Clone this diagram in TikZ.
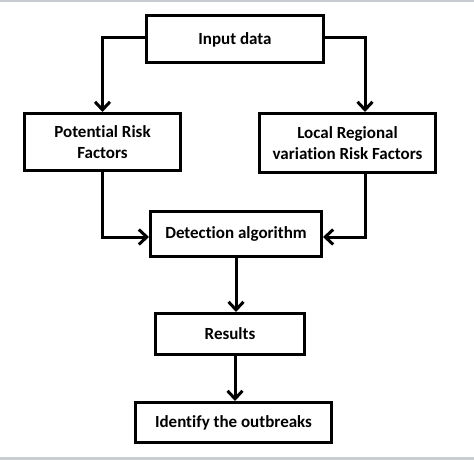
\documentclass[tikz,border=0pt]{standalone}
\usepackage{fontspec}
\setmainfont{Carlito}[Ligatures=NoCommon]
\usetikzlibrary{arrows.meta}
\begin{document}
\begin{tikzpicture}[x=1pt,y=-1pt,
  box/.style={draw=black,line width=3pt,fill=white,align=center,inner sep=0pt,
    font=\fontsize{17}{21}\selectfont\bfseries},
  arr/.style={line width=3pt,-{Straight Barb[length=8pt,width=15pt]}},
  band/.style={fill={rgb,255:red,201;green,204;blue,209},draw=none}]
\fill[white] (0,0) rectangle (474,460);
\useasboundingbox (0,0) rectangle (474,460);
\fill[band] (0,0) rectangle (474,2.5);
\fill[band] (0,457) rectangle (474,460);
\node[box,minimum width=177pt,minimum height=47pt] (input) at (235,39.5) {Input data};
\node[box,minimum width=156pt,minimum height=57pt] (pot) at (102.5,142) {Potential Risk\\Factors};
\node[box,minimum width=176pt,minimum height=59pt] (local) at (347.5,143) {Local Regional\\variation Risk Factors};
\node[box,minimum width=171pt,minimum height=45pt] (det) at (236,234) {Detection algorithm};
\node[box,minimum width=149pt,minimum height=41pt] (res) at (230,334) {Results};
\node[box,minimum width=196pt,minimum height=40pt] (idf) at (233.5,422.5) {Identify the outbreaks};
\coordinate (rx) at ([xshift=17.5pt]local.north);
\coordinate (rxs) at ([xshift=17.5pt]local.south);
\draw[arr] ([yshift=1.5pt]input.west) -| (pot.north);
\draw[arr] ([yshift=1.5pt]input.east) -| (rx);
\draw[arr] (pot.south) |- ([yshift=-3pt]det.west);
\draw[arr] (rxs) |- ([yshift=-3pt]det.east);
\draw[arr] (det.south) -- (det.south |- res.north);
\draw[arr] ([xshift=-1pt]det.south |- res.south) -- ([xshift=-1pt]det.south |- idf.north);
\end{tikzpicture}
\end{document}
